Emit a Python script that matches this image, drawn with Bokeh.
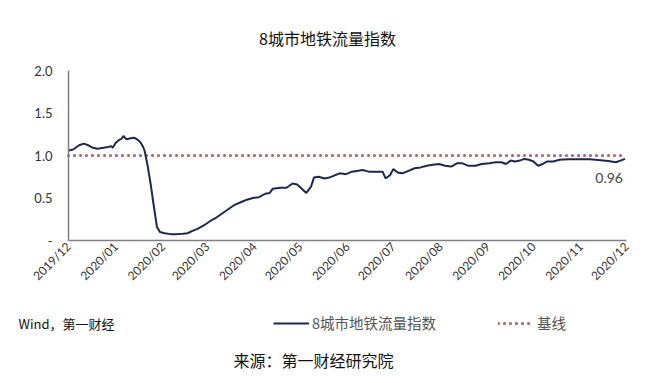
import pandas as pd
from math import pi
from bokeh.plotting import figure
from bokeh.models import (ColumnDataSource, Range1d, FixedTicker, DatetimeTickFormatter,
                          CustomJSTickFormatter, Label, Legend, LegendItem)
from bokeh.embed import file_html
from bokeh.resources import INLINE

# ---- data ----
dates = ["2019-12-01","2019-12-04","2019-12-08","2019-12-11","2019-12-14","2019-12-17","2019-12-20",
         "2019-12-24","2019-12-27","2019-12-29","2019-12-30","2020-01-01","2020-01-03","2020-01-05",
         "2020-01-06","2020-01-08","2020-01-10","2020-01-13","2020-01-15","2020-01-17","2020-01-19",
         "2020-01-20","2020-01-22","2020-01-24","2020-01-26","2020-01-28","2020-01-30","2020-02-02",
         "2020-02-06","2020-02-10","2020-02-14","2020-02-17","2020-02-20","2020-02-24","2020-02-28",
         "2020-03-03","2020-03-07","2020-03-11","2020-03-15","2020-03-19","2020-03-23","2020-03-27",
         "2020-03-31","2020-04-04","2020-04-08","2020-04-11","2020-04-13","2020-04-18","2020-04-22",
         "2020-04-26","2020-04-29","2020-05-02","2020-05-05","2020-05-08","2020-05-10","2020-05-13",
         "2020-05-17","2020-05-20","2020-05-24","2020-05-27","2020-05-31","2020-06-04","2020-06-08",
         "2020-06-11","2020-06-15","2020-06-20","2020-06-24","2020-06-26","2020-06-29","2020-07-01",
         "2020-07-04","2020-07-07","2020-07-11","2020-07-15","2020-07-19","2020-07-23","2020-07-27",
         "2020-07-31","2020-08-04","2020-08-08","2020-08-12","2020-08-15","2020-08-19","2020-08-24",
         "2020-08-28","2020-09-02","2020-09-06","2020-09-10","2020-09-13","2020-09-16","2020-09-19",
         "2020-09-22","2020-09-25","2020-09-28","2020-10-01","2020-10-04","2020-10-07","2020-10-10",
         "2020-10-14","2020-10-18","2020-10-24","2020-10-31","2020-11-07","2020-11-14","2020-11-19",
         "2020-11-24","2020-11-27","2020-11-30"]
values = [1.06,1.07,1.12,1.14,1.12,1.09,1.08,
          1.09,1.10,1.11,1.09,1.15,1.18,1.20,
          1.23,1.19,1.20,1.21,1.19,1.16,1.10,
          1.05,0.87,0.65,0.40,0.16,0.10,0.085,
          0.075,0.075,0.08,0.085,0.11,0.14,0.18,
          0.23,0.27,0.32,0.37,0.42,0.45,0.48,
          0.50,0.51,0.55,0.56,0.61,0.62,0.62,
          0.67,0.66,0.61,0.56,0.63,0.74,0.75,
          0.73,0.74,0.77,0.79,0.78,0.81,0.82,
          0.83,0.81,0.81,0.81,0.73,0.77,0.84,
          0.80,0.79,0.82,0.85,0.86,0.88,0.89,
          0.90,0.88,0.87,0.91,0.91,0.88,0.88,
          0.90,0.91,0.92,0.92,0.90,0.94,0.93,
          0.94,0.96,0.95,0.93,0.88,0.90,0.93,
          0.93,0.95,0.955,0.955,0.955,0.945,0.935,
          0.92,0.94,0.96]
baseline = 1.0
tick_months = ["2019-12-01","2020-01-01","2020-02-01","2020-03-01","2020-04-01","2020-05-01",
               "2020-06-01","2020-07-01","2020-08-01","2020-09-01","2020-10-01","2020-11-01","2020-12-01"]
y_ticks = [0, 0.5, 1.0, 1.5, 2.0]
last_label = "0.96"

title_text = "8城市地铁流量指数"
series_name = "8城市地铁流量指数"
base_name = "基线"
src_left = "Wind，第一财经"
src_bottom = "来源：第一财经研究院"

CN = "Noto Sans CJK SC"
NUM = "Lato"
LINE_C = "#1E274E"
BASE_C = "#B45F62"

# ---- geometry (pixels on the canvas) ----
W, H = 643, 375
PX_L, PX_R = 68, 626        # plot area left / right
PX_T, PX_B = 70, 240        # plot area top (y=2) / bottom (y=0)

x = pd.to_datetime(dates)
ticks = [pd.Timestamp(t).value / 1e6 for t in tick_months]
t0, t1 = ticks[0], ticks[-1]
ms_per_px = (t1 - t0) / (PX_R - PX_L)
y_lo, y_hi = y_ticks[0], y_ticks[-1]
u_per_px = (y_hi - y_lo) / (PX_B - PX_T)

src = ColumnDataSource(dict(x=x, y=values))
bsrc = ColumnDataSource(dict(x=[pd.Timestamp(tick_months[0]), pd.Timestamp(tick_months[-1])],
                             y=[baseline, baseline]))

p = figure(width=W, height=H, x_axis_type="datetime", output_backend="svg",
           toolbar_location=None,
           x_range=Range1d(t0 - PX_L * ms_per_px, t1 + (W - PX_R) * ms_per_px),
           y_range=Range1d(y_lo - (H - PX_B) * u_per_px, y_hi + PX_T * u_per_px),
           min_border=0)
p.outline_line_color = None
p.grid.visible = False

bl = p.line("x", "y", source=bsrc, line_color=BASE_C, line_width=3.2, line_dash="0 6",
            line_cap="round")
ml = p.line("x", "y", source=src, line_color=LINE_C, line_width=2)

p.xaxis.fixed_location = y_lo
p.xaxis.bounds = (t0, t1)
p.xaxis.ticker = FixedTicker(ticks=ticks)
p.xaxis.formatter = DatetimeTickFormatter(days="%Y/%m", months="%Y/%m", years="%Y/%m",
                                          hours="%Y/%m", minutes="%Y/%m")
p.xaxis.major_label_orientation = pi / 4
p.xaxis.major_label_text_font = NUM
p.xaxis.major_label_text_font_size = "12px"
p.xaxis.major_label_text_color = "#333333"
p.xaxis.major_label_standoff = 4

p.yaxis.fixed_location = t0
p.yaxis.bounds = (y_lo, y_hi)
p.yaxis.ticker = FixedTicker(ticks=y_ticks)
p.yaxis.formatter = CustomJSTickFormatter(code="return tick == 0 ? '-' : tick.toFixed(1);")
p.yaxis.major_label_text_font = NUM
p.yaxis.major_label_text_font_size = "13px"
p.yaxis.major_label_text_color = "#333333"
p.yaxis.major_label_standoff = 16
for ax in (p.xaxis, p.yaxis):
    ax.major_tick_in = 0
    ax.major_tick_out = 0
    ax.minor_tick_line_color = None
    ax.axis_line_color = "#808080"
    ax.axis_line_width = 1.5

# title
p.add_layout(Label(x=327, y=H - 37, x_units="screen", y_units="screen", text=title_text,
                   text_font=CN, text_font_size="16px", text_color="#111111",
                   text_align="center", text_baseline="middle"))

# last value
p.add_layout(Label(x=pd.Timestamp(dates[-1]).value / 1e6, y=values[-1], text=last_label,
                   x_offset=-2, y_offset=-19, text_align="right", text_baseline="middle",
                   text_font=NUM, text_font_size="14px", text_color="#444444"))

legend = Legend(items=[LegendItem(label=series_name, renderers=[ml]),
                       LegendItem(label=base_name, renderers=[bl])],
                orientation="horizontal", location=(273, H - 333), spacing=62,
                label_text_font=CN, label_text_font_size="14.5px", label_text_color="#555555",
                glyph_width=36, glyph_height=20, label_height=20, label_standoff=3,
                padding=0, margin=0, background_fill_alpha=0, border_line_color=None)
p.add_layout(legend)

p.add_layout(Label(x=18, y=H - 323, x_units="screen", y_units="screen", text=src_left,
                   text_font=CN, text_font_size="13px", text_color="#111111",
                   text_baseline="middle"))
p.add_layout(Label(x=313, y=H - 359, x_units="screen", y_units="screen", text=src_bottom,
                   text_font=CN, text_font_size="16px", text_color="#111111",
                   text_baseline="middle", text_align="center"))

open("out.html", "w").write(file_html(p, INLINE))
